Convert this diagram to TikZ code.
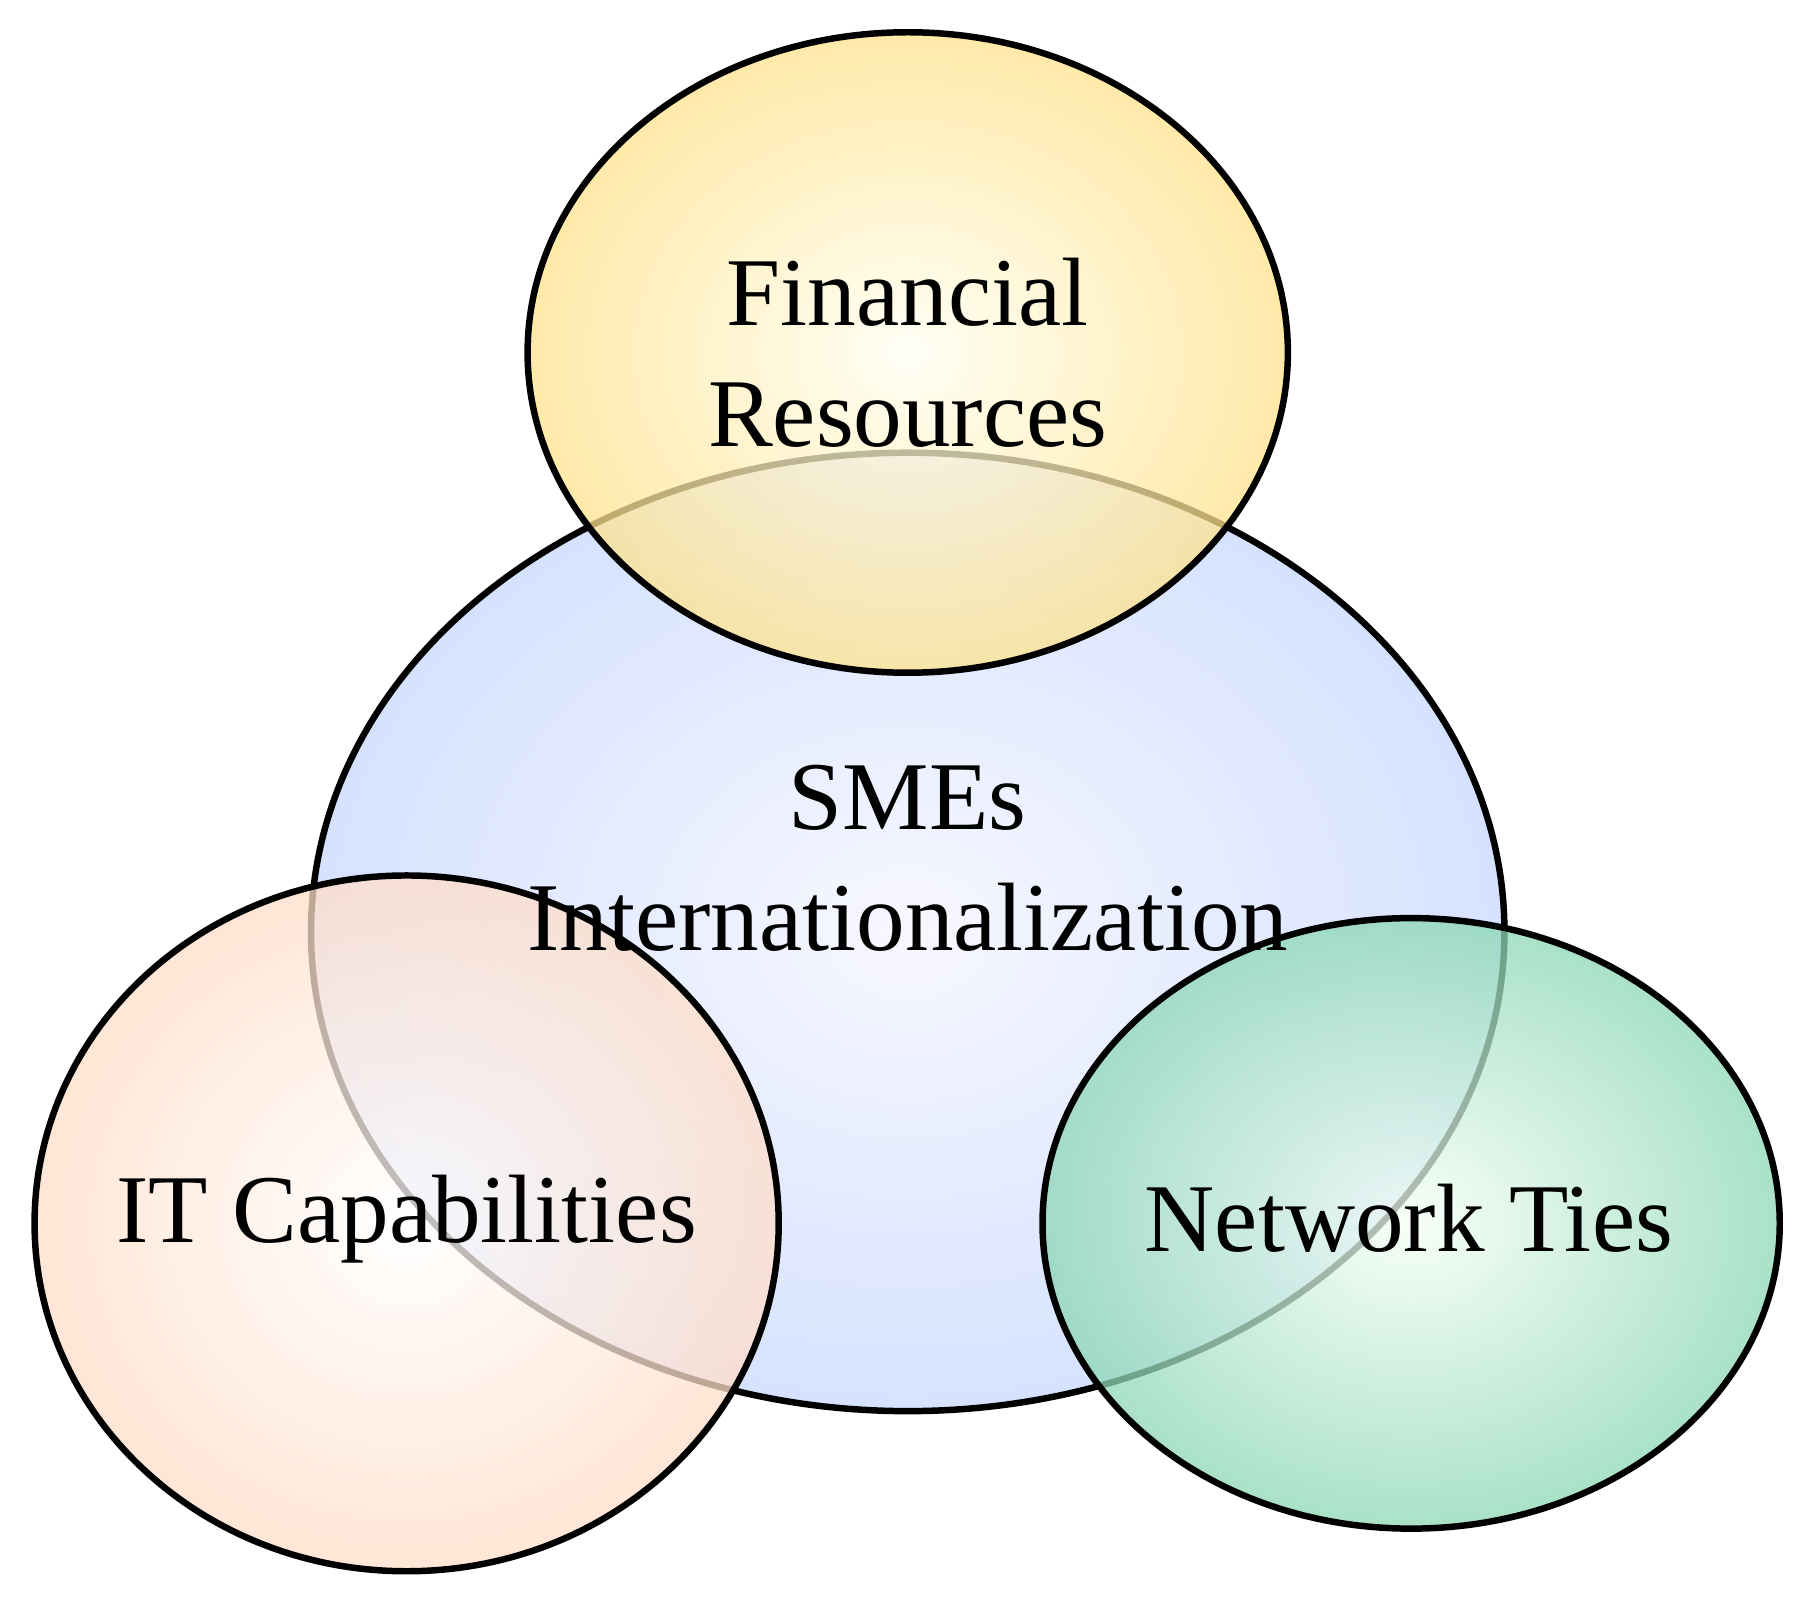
\documentclass[tikz,border=0pt]{standalone}
\usepackage{fontspec}
\setmainfont{Liberation Serif}
\usetikzlibrary{shapes.geometric}

\begin{document}
\begin{tikzpicture}[
bub/.style = {% bubbles
    ellipse, draw=black, line width=1.6pt, fill opacity=0.75,
    text opacity=1, align=center,
            },
lbl/.style = {font=\fontsize{24}{30}\selectfont, align=center},
                        ]
\useasboundingbox (0,0) rectangle (15.6,13.9);
% central bubble
\node[bub, minimum width=10.36cm, minimum height=8.32cm,
      inner color=blue!4, outer color=cyan!30!blue!22] (sme) at (7.88,5.81) {};
% top bubble
\node[bub, minimum width=6.6cm, minimum height=5.56cm,
      inner color=yellow!5, outer color=orange!50!yellow!45] (fin) at (7.88,10.84) {};
% lower bubbles
\node[bub, minimum width=6.46cm, minimum height=6.04cm,
      inner color=white, outer color=red!20!orange!22] (it) at (3.53,3.28) {};
\node[bub, minimum width=6.4cm, minimum height=5.3cm,
      inner color=green!4, outer color=teal!70!green!45] (net) at (12.25,3.28) {};
% labels
\node[lbl] (finl) at (fin) {Financial\\Resources};
\node[lbl] (smel) at (7.88,6.45) {SMEs\\Internationalization};
\node[lbl] (itl) at (3.53,3.32) {IT Capabilities};
\node[lbl] (netl) at (12.23,3.32) {Network Ties};
\end{tikzpicture}
\end{document}
